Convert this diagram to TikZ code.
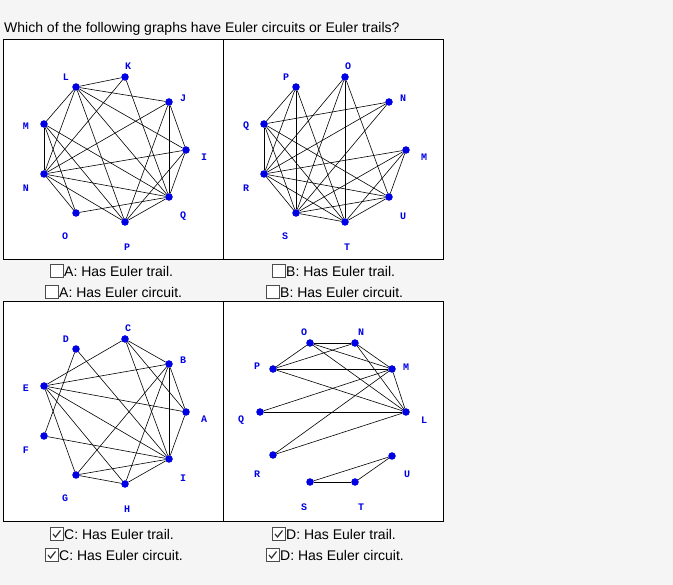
\documentclass[tikz,border=0pt]{standalone}
\usepackage{fontspec}
\setmainfont{Liberation Sans}
\newfontfamily\lblfont{Liberation Mono}
\begin{document}
\begin{tikzpicture}[x=1pt,y=-1pt,
  dot/.style={circle,fill=blue!90!black,inner sep=0pt,minimum size=7pt},
  lbl/.style={text=blue!90!black,font=\lblfont\bfseries\fontsize{10}{10}\selectfont,inner sep=0pt},
  edge/.style={draw=black,line width=0.6pt},
  panel/.style={draw=black,fill=white,line width=1pt},
  chk/.style={draw=black!70,fill=white,minimum size=13pt,inner sep=0pt,line width=0.6pt},
  txt/.style={font=\fontsize{14}{14}\selectfont,inner sep=0pt,anchor=west}]
\fill[black!4] (0,0) rectangle (673,585);
\useasboundingbox (0,0) rectangle (673,585);
\node[txt] (title) at (4,29) {Which of the following graphs have Euler circuits or Euler trails?};
\draw[panel] (3,40) rectangle (223,260);
\draw[panel] (223,40) rectangle (443,260);
\draw[panel] (3,302) rectangle (223,522);
\draw[panel] (223,302) rectangle (443,522);
\newcommand\gn[7]{\node[dot] (#1#2) at (#3,#4) {}; \node[lbl] (#1#2l) at (#5,#6) {#7};}
\begin{scope}[shift={(3,40)}]
\gn{a}{K}{122}{37}{125}{26}{K}
\gn{a}{L}{73}{47}{63}{37}{L}
\gn{a}{J}{166}{62}{180}{58}{J}
\gn{a}{M}{41}{84}{23}{86}{M}
\gn{a}{I}{183}{110}{201}{117}{I}
\gn{a}{N}{41}{134}{23}{148}{N}
\gn{a}{Q}{166}{157}{180}{176}{Q}
\gn{a}{O}{73}{173}{62}{196}{O}
\gn{a}{P}{122}{182}{124}{207}{P}
\end{scope}
\begin{scope}[shift={(223,40)}]
\gn{b}{O}{122}{37}{125}{26}{O}
\gn{b}{P}{73}{47}{63}{37}{P}
\gn{b}{N}{166}{62}{180}{58}{N}
\gn{b}{Q}{41}{84}{23}{86}{Q}
\gn{b}{M}{183}{110}{201}{117}{M}
\gn{b}{R}{41}{134}{23}{148}{R}
\gn{b}{U}{166}{157}{180}{176}{U}
\gn{b}{S}{73}{173}{62}{196}{S}
\gn{b}{T}{122}{182}{124}{207}{T}
\end{scope}
\begin{scope}[shift={(3,302)}]
\gn{c}{C}{122}{37}{125}{26}{C}
\gn{c}{D}{73}{47}{63}{37}{D}
\gn{c}{B}{166}{62}{180}{58}{B}
\gn{c}{E}{41}{84}{23}{86}{E}
\gn{c}{A}{183}{110}{201}{117}{A}
\gn{c}{F}{41}{134}{23}{148}{F}
\gn{c}{I}{166}{157}{180}{176}{I}
\gn{c}{G}{73}{173}{62}{196}{G}
\gn{c}{H}{122}{182}{124}{207}{H}
\end{scope}
\begin{scope}[shift={(223,302)}]
\gn{d}{O}{87}{41}{81}{30}{O}
\gn{d}{N}{132}{41}{138}{30}{N}
\gn{d}{P}{50}{67}{34}{64}{P}
\gn{d}{M}{169}{67}{183}{65}{M}
\gn{d}{Q}{37}{110}{18}{118}{Q}
\gn{d}{L}{183}{110}{201}{118}{L}
\gn{d}{R}{50}{153}{34}{172}{R}
\gn{d}{U}{169}{154}{184}{172}{U}
\gn{d}{S}{87}{180}{81}{205}{S}
\gn{d}{T}{132}{180}{138}{205}{T}
\end{scope}
\foreach \u/\v in {K/L,L/J,L/I,L/Q,L/P,L/N,L/M,K/N,K/Q,J/N,J/Q,J/P,J/I,I/N,I/P,I/Q,M/N,M/Q,M/O,M/P,N/Q,N/O,N/P,O/Q,P/Q}
  \draw[edge] (a\u) -- (a\v);
\foreach \u/\v in {P/Q,P/R,P/S,P/T,O/R,O/S,O/T,O/U,N/Q,N/R,N/S,M/R,M/S,M/T,M/U,Q/R,Q/S,Q/T,Q/U,R/S,R/T,R/U,S/T,S/U,T/U}
  \draw[edge] (b\u) -- (b\v);
\foreach \u/\v in {C/E,C/B,C/A,C/I,D/F,D/I,E/B,E/A,E/I,E/H,E/G,F/I,B/A,B/I,B/G,B/H,A/I,G/I,G/H,H/I}
  \draw[edge] (c\u) -- (c\v);
\foreach \u/\v in {O/N,O/P,O/M,O/L,N/P,N/M,N/L,P/M,P/L,Q/M,Q/L,R/M,R/L,M/L,S/T,S/U,T/U}
  \draw[edge] (d\u) -- (d\v);
\foreach \p/\n in {a/K,a/L,a/J,a/M,a/I,a/N,a/Q,a/O,a/P,b/O,b/P,b/N,b/Q,b/M,b/R,b/U,b/S,b/T,c/C,c/D,c/B,c/E,c/A,c/F,c/I,c/G,c/H,d/O,d/N,d/P,d/M,d/Q,d/L,d/R,d/U,d/S,d/T}
  \fill[blue!90!black] (\p\n) circle (3.7pt);
\node[chk] (cb1) at (56.5,271) {}; \node[txt] (t1) at (64,271) {A: Has Euler trail.};
\node[chk] (cb2) at (51.5,292) {}; \node[txt] (t2) at (59,292) {A: Has Euler circuit.};
\node[chk] (cb3) at (278.5,271) {}; \node[txt] (t3) at (286,271) {B: Has Euler trail.};
\node[chk] (cb4) at (272.5,292) {}; \node[txt] (t4) at (280,292) {B: Has Euler circuit.};
\node[chk] (cb5) at (56.5,534) {}; \node[txt] (t5) at (64,534) {C: Has Euler trail.};
\node[chk] (cb6) at (51.5,555) {}; \node[txt] (t6) at (59,555) {C: Has Euler circuit.};
\node[chk] (cb7) at (278.5,534) {}; \node[txt] (t7) at (286,534) {D: Has Euler trail.};
\node[chk] (cb8) at (272.5,555) {}; \node[txt] (t8) at (280,555) {D: Has Euler circuit.};
\foreach \c in {cb5,cb6,cb7,cb8}
  \draw[line width=1.2pt,black!80] ([xshift=-3.5pt,yshift=0pt]\c.center) -- ([xshift=-1pt,yshift=-3pt]\c.center) -- ([xshift=4pt,yshift=3.5pt]\c.center);
\end{tikzpicture}
\end{document}
